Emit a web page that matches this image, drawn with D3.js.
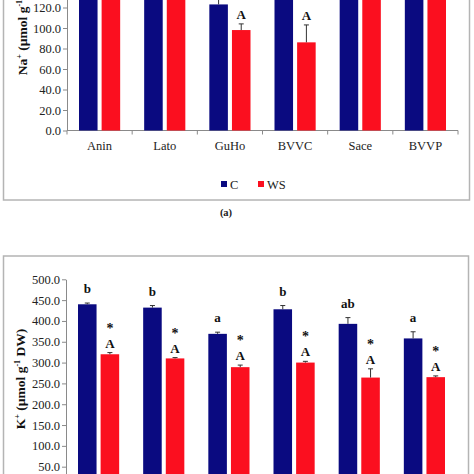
<!DOCTYPE html>
<html>
<head>
<meta charset="utf-8">
<script src="https://cdn.jsdelivr.net/npm/d3@7"></script>
<style>
  body { margin: 0; background: #fff; }
  svg text { font-family: "Liberation Serif", "DejaVu Serif", serif; }
</style>
</head>
<body>
<svg id="chart" width="474" height="474"></svg>
<script>
// genotypes on the x axis
var categories = ["Anin", "Lato", "GuHo", "BVVC", "Sace", "BVVP"];
var seriesNames = ["C", "WS"];

// panel (a): Na+ (bars above ~127 run off the top of the picture)
var naC = [150, 146, 123, 140, 152, 158];
var naCErr = [5, 5, 8, 5, 5, 5];
var naWS = [148, 160, 98, 86, 155, 170];
var naWSErr = [5, 5, 6, 17, 5, 5];
var naWSLetters = ["", "", "A", "A", "", ""];
var naTicks = [0, 20, 40, 60, 80, 100, 120];

// panel (b): K+
var kC = [440, 432, 369, 428, 393, 358];
var kCErr = [3, 5, 4, 9, 15, 16];
var kWS = [320, 310, 289, 300, 264, 265];
var kWSErr = [4, 2, 5, 3, 21, 3];
var kCLetters = ["b", "b", "a", "b", "ab", "a"];
var kWSStars = ["*", "*", "*", "*", "*", "*"];
var kWSLetters = ["A", "A", "A", "A", "A", "A"];
var kTicks = [50, 100, 150, 200, 250, 300, 350, 400, 450, 500];

var colors = { C: "#0a0a80", WS: "#fb0f1f" };
var axisGray = "#8a8a8a";
var serif = "Liberation Serif";

var svg = d3.select("#chart");

// frames
svg.append("rect").attr("x", 3.5).attr("y", -20).attr("width", 466).attr("height", 220)
  .attr("fill", "none").attr("stroke", "#b4b4b4").attr("stroke-width", 1.5);
svg.append("rect").attr("x", 3.5).attr("y", 256).attr("width", 465).attr("height", 240)
  .attr("fill", "none").attr("stroke", "#b4b4b4").attr("stroke-width", 1.5);

function drawPanel(opt) {
  var g = svg.append("g").attr("font-family", serif);

  var x0 = d3.scaleBand().domain(categories).range(opt.xRange);
  var x1 = d3.scaleBand().domain(seriesNames).range([12, x0.bandwidth() - 12]).paddingInner(0.18);
  var y = d3.scaleLinear().domain(opt.yDomain).range(opt.yRange);

  var rows = categories.map(function(c, i) {
    return [
      { cat: c, s: "C", v: opt.c[i], e: opt.cErr[i], i: i },
      { cat: c, s: "WS", v: opt.ws[i], e: opt.wsErr[i], i: i }
    ];
  });

  // y axis
  var yAxis = d3.axisLeft(y).tickValues(opt.ticks).tickSize(4).tickSizeOuter(0)
    .tickFormat(d3.format(".1f"));
  var ya = g.append("g").attr("transform", "translate(" + opt.xRange[0] + ",0)").call(yAxis)
    .attr("font-family", serif);
  ya.selectAll("path, line").attr("stroke", axisGray);
  ya.selectAll("text").attr("font-size", 12.5).attr("fill", "#222").attr("x", -6)
    .attr("font-family", serif);

  // x axis at zero, ticks at band boundaries
  var yZero = y(0);
  g.append("line").attr("x1", opt.xRange[0]).attr("x2", opt.xRange[1])
    .attr("y1", yZero).attr("y2", yZero).attr("stroke", axisGray);
  g.selectAll(".xtick").data(categories.concat(["end"])).join("line")
    .attr("x1", function(d) { return d === "end" ? opt.xRange[1] : x0(d); })
    .attr("x2", function(d) { return d === "end" ? opt.xRange[1] : x0(d); })
    .attr("y1", yZero).attr("y2", yZero + 4).attr("stroke", axisGray);
  if (opt.showXLabels) {
    g.selectAll(".xlab").data(categories).join("text")
      .attr("x", function(d) { return x0(d) + x0.bandwidth() / 2; })
      .attr("y", opt.labelY)
      .attr("text-anchor", "middle").attr("font-size", 12.5).attr("fill", "#222")
      .text(function(d) { return d; });
  }

  // bars
  var grp = g.selectAll(".grp").data(rows).join("g")
    .attr("transform", function(d) { return "translate(" + x0(d[0].cat) + ",0)"; });
  grp.selectAll("rect").data(function(d) { return d; }).join("rect")
    .attr("x", function(d) { return x1(d.s); })
    .attr("width", x1.bandwidth())
    .attr("y", function(d) { return y(d.v); })
    .attr("height", function(d) { return y(0) - y(d.v); })
    .attr("fill", function(d) { return colors[d.s]; });

  // error bars
  grp.selectAll(".err").data(function(d) { return d; }).join("path")
    .attr("fill", "none").attr("stroke", "#333").attr("stroke-width", 1)
    .attr("d", function(d) {
      var cx = x1(d.s) + x1.bandwidth() / 2;
      var top = y(d.v + d.e);
      return "M" + cx + "," + y(d.v) + "V" + top + "M" + (cx - 2.5) + "," + top + "H" + (cx + 2.5);
    });

  // annotations (skip those that would sit above the picture)
  function annotate(texts, series, gap, size) {
    if (!texts) return;
    grp.filter(function(d) { return texts[d[0].i] !== ""; }).append("text")
      .attr("x", x1(series) + x1.bandwidth() / 2)
      .attr("y", function(d) { var r = d[series === "C" ? 0 : 1]; return y(r.v + r.e) - gap; })
      .attr("text-anchor", "middle").attr("font-weight", "bold").attr("font-size", size)
      .attr("fill", "#111")
      .text(function(d) { return texts[d[0].i]; });
  }
  annotate(opt.cLetters, "C", 10, 13);
  annotate(opt.wsStars, "WS", 20, 14);
  annotate(opt.wsLetters, "WS", 5, 13);

  // y title
  g.append("text")
    .attr("transform", "translate(" + opt.titleX + "," + opt.titleY + ") rotate(-90)")
    .attr("text-anchor", "middle").attr("font-weight", "bold").attr("font-size", 13.5)
    .attr("fill", "#111")
    .call(function(t) {
      t.append("tspan").text(opt.ion);
      t.append("tspan").attr("dy", -5).attr("font-size", 8).text("+");
      t.append("tspan").attr("dy", 5).text(" (\u00b5mol g");
      t.append("tspan").attr("dy", -5).attr("font-size", 8).text("-1");
      t.append("tspan").attr("dy", 5).text(" DW)");
    });
}

drawPanel({
  xRange: [67, 458], yDomain: [0, 160], yRange: [130.5, 130.5 - 160 * 1.025],
  ticks: naTicks, c: naC, cErr: naCErr, ws: naWS, wsErr: naWSErr,
  cLetters: null, wsStars: null, wsLetters: naWSLetters,
  showXLabels: true, labelY: 150, ion: "Na", titleX: 27, titleY: 22
});

drawPanel({
  xRange: [66, 457], yDomain: [0, 500], yRange: [487.5, 279.3],
  ticks: kTicks, c: kC, cErr: kCErr, ws: kWS, wsErr: kWSErr,
  cLetters: kCLetters, wsStars: kWSStars, wsLetters: kWSLetters,
  showXLabels: false, labelY: 510, ion: "K", titleX: 25, titleY: 379
});

// legend for panel (a)
var legend = svg.append("g").attr("font-family", serif).selectAll("g").data(seriesNames).join("g")
  .attr("transform", function(d, i) { return "translate(" + (221 + i * 37) + ",181)"; });
legend.append("rect").attr("width", 6).attr("height", 6)
  .attr("fill", function(d) { return colors[d]; });
legend.append("text").attr("x", 9).attr("y", 7.5).attr("font-size", 12.5).attr("fill", "#222")
  .text(function(d) { return d; });

svg.append("text").attr("x", 226).attr("y", 216).attr("text-anchor", "middle")
  .attr("font-family", serif)
  .attr("font-weight", "bold").attr("font-size", 10.5).attr("fill", "#222").text("(a)");
</script>
</body>
</html>
